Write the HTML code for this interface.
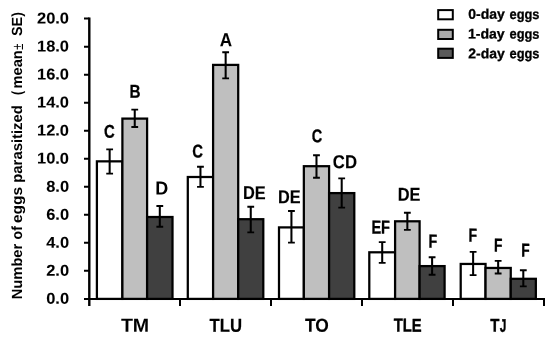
<!DOCTYPE html>
<html><head><meta charset="utf-8"><title>chart</title>
<style>html,body{margin:0;padding:0;background:#fff}svg{display:block}text{text-rendering:geometricPrecision}</style>
</head><body>
<svg width="550" height="338" viewBox="0 0 550 338">
<defs><filter id="soft" x="0" y="0" width="550" height="338" filterUnits="userSpaceOnUse" color-interpolation-filters="sRGB"><feGaussianBlur stdDeviation="0.38"/></filter></defs>
<rect width="550" height="338" fill="#fff"/>
<g filter="url(#soft)">
<rect x="-5" y="-5" width="560" height="348" fill="#fff"/>
<rect x="96.90" y="161.35" width="25.50" height="137.55" fill="#ffffff" stroke="#000" stroke-width="2.25"/>
<rect x="122.40" y="118.60" width="24.70" height="180.30" fill="#bfbfbf" stroke="#000" stroke-width="2.25"/>
<rect x="147.10" y="217.00" width="25.40" height="81.90" fill="#404040" stroke="#000" stroke-width="2.25"/>
<rect x="187.80" y="177.00" width="25.30" height="121.90" fill="#ffffff" stroke="#000" stroke-width="2.25"/>
<rect x="213.10" y="64.90" width="25.10" height="234.00" fill="#bfbfbf" stroke="#000" stroke-width="2.25"/>
<rect x="238.20" y="219.20" width="25.10" height="79.70" fill="#404040" stroke="#000" stroke-width="2.25"/>
<rect x="279.00" y="227.40" width="24.85" height="71.50" fill="#ffffff" stroke="#000" stroke-width="2.25"/>
<rect x="303.85" y="166.20" width="25.25" height="132.70" fill="#bfbfbf" stroke="#000" stroke-width="2.25"/>
<rect x="329.10" y="193.10" width="25.20" height="105.80" fill="#404040" stroke="#000" stroke-width="2.25"/>
<rect x="369.30" y="252.30" width="25.80" height="46.60" fill="#ffffff" stroke="#000" stroke-width="2.25"/>
<rect x="395.10" y="221.30" width="24.50" height="77.60" fill="#bfbfbf" stroke="#000" stroke-width="2.25"/>
<rect x="419.60" y="266.10" width="25.00" height="32.80" fill="#404040" stroke="#000" stroke-width="2.25"/>
<rect x="460.70" y="263.95" width="24.85" height="34.95" fill="#ffffff" stroke="#000" stroke-width="2.25"/>
<rect x="485.55" y="267.95" width="25.20" height="30.95" fill="#bfbfbf" stroke="#000" stroke-width="2.25"/>
<rect x="510.75" y="278.80" width="25.10" height="20.10" fill="#404040" stroke="#000" stroke-width="2.25"/>
<path d="M109.65 149.40V173.65" stroke="#000" stroke-width="2.05" fill="none"/>
<path d="M106.25 149.40h6.8M106.25 173.65h6.8" stroke="#000" stroke-width="1.85" fill="none"/>
<text transform="translate(104.06 137.65) rotate(0.2) scale(0.797 1)" font-size="18.55" font-family="Liberation Sans, Arial, sans-serif" font-weight="bold" stroke="#000" stroke-width="0.3">C</text>
<path d="M134.75 109.65V126.95" stroke="#000" stroke-width="2.05" fill="none"/>
<path d="M131.35 109.65h6.8M131.35 126.95h6.8" stroke="#000" stroke-width="1.85" fill="none"/>
<text transform="translate(129.43 97.68) rotate(0.2) scale(0.819 1)" font-size="18.61" font-family="Liberation Sans, Arial, sans-serif" font-weight="bold" stroke="#000" stroke-width="0.25">B</text>
<path d="M159.80 206.00V226.70" stroke="#000" stroke-width="2.05" fill="none"/>
<path d="M156.40 206.00h6.8M156.40 226.70h6.8" stroke="#000" stroke-width="1.85" fill="none"/>
<text transform="translate(155.26 194.59) rotate(0.2) scale(0.949 1)" font-size="18.89" font-family="Liberation Sans, Arial, sans-serif" font-weight="bold" stroke="#000" stroke-width="0.01">D</text>
<path d="M200.45 166.75V186.90" stroke="#000" stroke-width="2.05" fill="none"/>
<path d="M197.05 166.75h6.8M197.05 186.90h6.8" stroke="#000" stroke-width="1.85" fill="none"/>
<text transform="translate(192.21 157.55) rotate(0.2) scale(0.797 1)" font-size="18.55" font-family="Liberation Sans, Arial, sans-serif" font-weight="bold" stroke="#000" stroke-width="0.3">C</text>
<path d="M225.65 52.25V78.30" stroke="#000" stroke-width="2.05" fill="none"/>
<path d="M222.25 52.25h6.8M222.25 78.30h6.8" stroke="#000" stroke-width="1.85" fill="none"/>
<text transform="translate(219.76 46.16) rotate(0.2) scale(0.909 1)" font-size="18.81" font-family="Liberation Sans, Arial, sans-serif" font-weight="bold" stroke="#000" stroke-width="0.08">A</text>
<path d="M250.75 206.70V232.30" stroke="#000" stroke-width="2.05" fill="none"/>
<path d="M247.35 206.70h6.8M247.35 232.30h6.8" stroke="#000" stroke-width="1.85" fill="none"/>
<text transform="translate(243.03 199.12) rotate(0.2) scale(0.873 1)" font-size="18.71" font-family="Liberation Sans, Arial, sans-serif" font-weight="bold" stroke="#000" stroke-width="0.16">DE</text>
<path d="M291.43 211.00V242.60" stroke="#000" stroke-width="2.05" fill="none"/>
<path d="M288.03 211.00h6.8M288.03 242.60h6.8" stroke="#000" stroke-width="1.85" fill="none"/>
<text transform="translate(278.04 203.31) rotate(0.2) scale(0.869 1)" font-size="18.7" font-family="Liberation Sans, Arial, sans-serif" font-weight="bold" stroke="#000" stroke-width="0.17">DE</text>
<path d="M316.48 155.20V177.70" stroke="#000" stroke-width="2.05" fill="none"/>
<path d="M313.08 155.20h6.8M313.08 177.70h6.8" stroke="#000" stroke-width="1.85" fill="none"/>
<text transform="translate(311.69 142.34) rotate(0.2) scale(0.780 1)" font-size="18.52" font-family="Liberation Sans, Arial, sans-serif" font-weight="bold" stroke="#000" stroke-width="0.33">C</text>
<path d="M341.70 178.40V207.60" stroke="#000" stroke-width="2.05" fill="none"/>
<path d="M338.30 178.40h6.8M338.30 207.60h6.8" stroke="#000" stroke-width="1.85" fill="none"/>
<text transform="translate(332.82 168.14) rotate(0.2) scale(0.891 1)" font-size="18.75" font-family="Liberation Sans, Arial, sans-serif" font-weight="bold" stroke="#000" stroke-width="0.13">CD</text>
<path d="M382.20 242.10V262.90" stroke="#000" stroke-width="2.05" fill="none"/>
<path d="M378.80 242.10h6.8M378.80 262.90h6.8" stroke="#000" stroke-width="1.85" fill="none"/>
<text transform="translate(371.41 233.53) rotate(0.2) scale(0.784 1)" font-size="18.5" font-family="Liberation Sans, Arial, sans-serif" font-weight="bold" stroke="#000" stroke-width="0.34">EF</text>
<path d="M407.35 212.70V229.80" stroke="#000" stroke-width="2.05" fill="none"/>
<path d="M403.95 212.70h6.8M403.95 229.80h6.8" stroke="#000" stroke-width="1.85" fill="none"/>
<text transform="translate(397.63 200.82) rotate(0.2) scale(0.873 1)" font-size="18.71" font-family="Liberation Sans, Arial, sans-serif" font-weight="bold" stroke="#000" stroke-width="0.16">DE</text>
<path d="M432.10 257.20V274.70" stroke="#000" stroke-width="2.05" fill="none"/>
<path d="M428.70 257.20h6.8M428.70 274.70h6.8" stroke="#000" stroke-width="1.85" fill="none"/>
<text transform="translate(428.43 247.53) rotate(0.2) scale(0.771 1)" font-size="18.5" font-family="Liberation Sans, Arial, sans-serif" font-weight="bold" stroke="#000" stroke-width="0.34">F</text>
<path d="M473.12 251.90V275.05" stroke="#000" stroke-width="2.05" fill="none"/>
<path d="M469.73 251.90h6.8M469.73 275.05h6.8" stroke="#000" stroke-width="1.85" fill="none"/>
<text transform="translate(468.45 241.42) rotate(0.2) scale(0.760 1)" font-size="18.48" font-family="Liberation Sans, Arial, sans-serif" font-weight="bold" stroke="#000" stroke-width="0.36">F</text>
<path d="M498.15 260.90V273.50" stroke="#000" stroke-width="2.05" fill="none"/>
<path d="M494.75 260.90h6.8M494.75 273.50h6.8" stroke="#000" stroke-width="1.85" fill="none"/>
<text transform="translate(494.08 251.51) rotate(0.2) scale(0.744 1)" font-size="18.45" font-family="Liberation Sans, Arial, sans-serif" font-weight="bold" stroke="#000" stroke-width="0.39">F</text>
<path d="M523.30 270.20V286.40" stroke="#000" stroke-width="2.05" fill="none"/>
<path d="M519.90 270.20h6.8M519.90 286.40h6.8" stroke="#000" stroke-width="1.85" fill="none"/>
<text transform="translate(521.18 256.40) rotate(0.2) scale(0.744 1)" font-size="18.45" font-family="Liberation Sans, Arial, sans-serif" font-weight="bold" stroke="#000" stroke-width="0.39">F</text>
<path d="M89.30 17.60V305.9" stroke="#000" stroke-width="2.4" fill="none"/>
<path d="M88.10 298.9H545.0M84.0 298.90H89.30M84.0 270.87H89.30M84.0 242.84H89.30M84.0 214.81H89.30M84.0 186.78H89.30M84.0 158.75H89.30M84.0 130.72H89.30M84.0 102.69H89.30M84.0 74.66H89.30M84.0 46.63H89.30M84.0 18.60H89.30M180.0 298.9v7M271.0 298.9v7M362.0 298.9v7M453.0 298.9v7M544.0 298.9v7" stroke="#000" stroke-width="2" fill="none"/>
<text transform="translate(69.0 303.85) rotate(0.2) scale(1.045 1)" font-size="15.7" text-anchor="end" stroke="#000" stroke-width="0.08" font-family="Liberation Sans, Arial, sans-serif" font-weight="bold">0.0</text>
<text transform="translate(69.0 275.82) rotate(0.2) scale(1.045 1)" font-size="15.7" text-anchor="end" stroke="#000" stroke-width="0.08" font-family="Liberation Sans, Arial, sans-serif" font-weight="bold">2.0</text>
<text transform="translate(69.0 247.79) rotate(0.2) scale(1.045 1)" font-size="15.7" text-anchor="end" stroke="#000" stroke-width="0.08" font-family="Liberation Sans, Arial, sans-serif" font-weight="bold">4.0</text>
<text transform="translate(69.0 219.76) rotate(0.2) scale(1.045 1)" font-size="15.7" text-anchor="end" stroke="#000" stroke-width="0.08" font-family="Liberation Sans, Arial, sans-serif" font-weight="bold">6.0</text>
<text transform="translate(69.0 191.73) rotate(0.2) scale(1.045 1)" font-size="15.7" text-anchor="end" stroke="#000" stroke-width="0.08" font-family="Liberation Sans, Arial, sans-serif" font-weight="bold">8.0</text>
<text transform="translate(69.0 163.70) rotate(0.2) scale(1.045 1)" font-size="15.7" text-anchor="end" stroke="#000" stroke-width="0.08" font-family="Liberation Sans, Arial, sans-serif" font-weight="bold">10.0</text>
<text transform="translate(69.0 135.67) rotate(0.2) scale(1.045 1)" font-size="15.7" text-anchor="end" stroke="#000" stroke-width="0.08" font-family="Liberation Sans, Arial, sans-serif" font-weight="bold">12.0</text>
<text transform="translate(69.0 107.64) rotate(0.2) scale(1.045 1)" font-size="15.7" text-anchor="end" stroke="#000" stroke-width="0.08" font-family="Liberation Sans, Arial, sans-serif" font-weight="bold">14.0</text>
<text transform="translate(69.0 79.61) rotate(0.2) scale(1.045 1)" font-size="15.7" text-anchor="end" stroke="#000" stroke-width="0.08" font-family="Liberation Sans, Arial, sans-serif" font-weight="bold">16.0</text>
<text transform="translate(69.0 51.58) rotate(0.2) scale(1.045 1)" font-size="15.7" text-anchor="end" stroke="#000" stroke-width="0.08" font-family="Liberation Sans, Arial, sans-serif" font-weight="bold">18.0</text>
<text transform="translate(69.0 23.55) rotate(0.2) scale(1.045 1)" font-size="15.7" text-anchor="end" stroke="#000" stroke-width="0.08" font-family="Liberation Sans, Arial, sans-serif" font-weight="bold">20.0</text>
<text transform="translate(120.93 331.80) rotate(0.2) scale(1.029 1)" font-size="19.0" font-family="Liberation Sans, Arial, sans-serif" font-weight="bold">TM</text>
<text transform="translate(209.57 331.69) rotate(0.2) scale(0.890 1)" font-size="18.73" font-family="Liberation Sans, Arial, sans-serif" font-weight="bold" stroke="#000" stroke-width="0.23">TLU</text>
<text transform="translate(305.03 331.72) rotate(0.2) scale(0.922 1)" font-size="18.81" font-family="Liberation Sans, Arial, sans-serif" font-weight="bold" stroke="#000" stroke-width="0.16">TO</text>
<text transform="translate(393.75 331.59) rotate(0.2) scale(0.798 1)" font-size="18.51" font-family="Liberation Sans, Arial, sans-serif" font-weight="bold" stroke="#000" stroke-width="0.42">TLE</text>
<text transform="translate(490.2 331.6) rotate(0.2)" font-size="18.2" font-family="Liberation Sans, Arial, sans-serif" font-weight="bold" stroke="#000" stroke-width="0.4"><tspan textLength="9.12" lengthAdjust="spacingAndGlyphs">T</tspan><tspan dx="0.5" textLength="6.58" lengthAdjust="spacingAndGlyphs">J</tspan></text>
<text transform="translate(22.4 299.23) rotate(-90) scale(0.999 1)" font-size="14.7" font-family="Liberation Sans, Arial, sans-serif" font-weight="bold">Number</text>
<text transform="translate(22.4 239.40) rotate(-90) scale(0.960 1)" font-size="14.7" font-family="Liberation Sans, Arial, sans-serif" font-weight="bold">of</text>
<text transform="translate(22.4 223.06) rotate(-90) scale(1.056 1)" font-size="14.7" font-family="Liberation Sans, Arial, sans-serif" font-weight="bold">eggs</text>
<text transform="translate(22.4 182.73) rotate(-90) scale(1.011 1)" font-size="14.7" font-family="Liberation Sans, Arial, sans-serif" font-weight="bold">parasitized</text>
<text transform="translate(22.4 94.97) rotate(-90) scale(0.844 1)" font-size="14.7" font-family="Liberation Sans, Arial, sans-serif" font-weight="bold">(</text>
<text transform="translate(22.4 88.41) rotate(-90) scale(0.994 1)" font-size="14.7" font-family="Liberation Sans, Arial, sans-serif" font-weight="bold">mean</text>
<text transform="translate(22.4 36.12) rotate(-90) scale(0.983 1)" font-size="14.7" font-family="Liberation Sans, Arial, sans-serif" font-weight="bold">SE)</text>
<text transform="translate(23.1 49.7) rotate(-90) scale(0.72 1)" font-size="15.4" font-family="Liberation Sans, Arial, sans-serif">±</text>
<rect x="438.2" y="10.10" width="14.6" height="9.2" fill="#ffffff" stroke="#000" stroke-width="2"/>
<text transform="translate(468.25 18.75) rotate(0.2)" font-size="14.0" font-family="Liberation Sans, Arial, sans-serif" font-weight="bold" stroke="#000" stroke-width="0.3"><tspan x="0" textLength="36.43" lengthAdjust="spacingAndGlyphs">0-day</tspan> <tspan x="41.25" textLength="30.03" lengthAdjust="spacingAndGlyphs">eggs</tspan></text>
<rect x="438.2" y="29.80" width="14.6" height="9.2" fill="#ababab" stroke="#000" stroke-width="2"/>
<text transform="translate(467.91 38.45) rotate(0.2)" font-size="14.0" font-family="Liberation Sans, Arial, sans-serif" font-weight="bold" stroke="#000" stroke-width="0.3"><tspan x="0" textLength="36.76" lengthAdjust="spacingAndGlyphs">1-day</tspan> <tspan x="41.58" textLength="30.03" lengthAdjust="spacingAndGlyphs">eggs</tspan></text>
<rect x="438.2" y="48.70" width="14.6" height="9.2" fill="#5a5a5a" stroke="#000" stroke-width="2"/>
<text transform="translate(468.32 58.15) rotate(0.2)" font-size="14.0" font-family="Liberation Sans, Arial, sans-serif" font-weight="bold" stroke="#000" stroke-width="0.3"><tspan x="0" textLength="36.36" lengthAdjust="spacingAndGlyphs">2-day</tspan> <tspan x="41.18" textLength="30.03" lengthAdjust="spacingAndGlyphs">eggs</tspan></text>
</g>
</svg>
</body></html>
